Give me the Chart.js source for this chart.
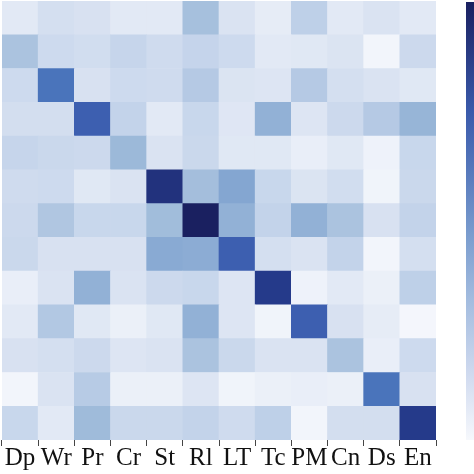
<!DOCTYPE html>
<html>
<head>
<meta charset="utf-8">
<script src="https://cdn.jsdelivr.net/npm/chart.js@4/dist/chart.umd.min.js"></script>
<style>
    html, body { margin: 0; padding: 0; background: #fff; }
    #wrap { width: 474px; height: 474px; }
</style>
</head>
<body>
<div id="wrap"><canvas id="heat"></canvas></div>
<script>
// column labels
const xLabels = ['Dp', 'Wr', 'Pr', 'Cr', 'St', 'Rl', 'LT', 'Tc', 'PM', 'Cn', 'Ds', 'En']

// cell intensity (0 = white, 1 = darkest), rows listed top to bottom
const cellValues = [
    [0.12, 0.2, 0.18, 0.12, 0.12, 0.42, 0.17, 0.1, 0.32, 0.12, 0.17, 0.12],
    [0.4, 0.24, 0.22, 0.28, 0.23, 0.29, 0.24, 0.12, 0.13, 0.16, 0.03, 0.25],
    [0.24, 0.72, 0.18, 0.24, 0.23, 0.36, 0.16, 0.15, 0.36, 0.2, 0.17, 0.13],
    [0.21, 0.21, 0.78, 0.3, 0.12, 0.27, 0.14, 0.5, 0.15, 0.25, 0.36, 0.48],
    [0.28, 0.26, 0.25, 0.46, 0.17, 0.26, 0.13, 0.13, 0.08, 0.13, 0.05, 0.27],
    [0.23, 0.24, 0.13, 0.17, 0.93, 0.43, 0.55, 0.27, 0.16, 0.22, 0.04, 0.26],
    [0.25, 0.38, 0.27, 0.27, 0.44, 1.0, 0.5, 0.3, 0.5, 0.4, 0.18, 0.3],
    [0.26, 0.18, 0.18, 0.18, 0.53, 0.52, 0.78, 0.2, 0.17, 0.3, 0.03, 0.2],
    [0.08, 0.17, 0.5, 0.17, 0.25, 0.27, 0.15, 0.9, 0.05, 0.12, 0.07, 0.32],
    [0.12, 0.37, 0.13, 0.07, 0.13, 0.5, 0.15, 0.04, 0.78, 0.18, 0.1, 0.02],
    [0.18, 0.2, 0.25, 0.15, 0.17, 0.4, 0.26, 0.17, 0.17, 0.4, 0.08, 0.24],
    [0.03, 0.17, 0.35, 0.07, 0.07, 0.15, 0.04, 0.07, 0.08, 0.07, 0.72, 0.18],
    [0.27, 0.12, 0.45, 0.26, 0.26, 0.3, 0.23, 0.32, 0.03, 0.21, 0.21, 0.9],
]

const colorStops = [
    [0.0, [247, 249, 253]],
    [0.15, [221, 229, 243]],
    [0.3, [195, 211, 234]],
    [0.45, [159, 187, 218]],
    [0.55, [132, 166, 209]],
    [0.72, [74, 116, 187]],
    [0.78, [61, 95, 176]],
    [0.9, [37, 58, 138]],
    [1.0, [26, 32, 96]],
]

// colour bar shading, top to bottom
const barStops = [
    [0.0, [26, 32, 96]],
    [0.25, [58, 90, 171]],
    [0.38, [85, 119, 187]],
    [0.53, [122, 156, 206]],
    [0.68, [163, 188, 223]],
    [0.84, [205, 216, 238]],
    [1.0, [246, 248, 252]],
]

function colorFor(v) {
    for (let i = 1; i < colorStops.length; i++) {
        const [p1, c1] = colorStops[i]
        const [p0, c0] = colorStops[i - 1]
        if (v <= p1) {
            const t = (v - p0) / (p1 - p0)
            const c = c0.map((x, k) => Math.round(x + (c1[k] - x) * t))
            return 'rgb(' + c.join(',') + ')'
        }
    }
    return 'rgb(26,32,96)'
}

// one stacked dataset per row, bottom row first
const datasets = cellValues
    .slice()
    .reverse()
    .map((row) => ({
        data: row.map(() => 1),
        backgroundColor: row.map(colorFor),
        borderWidth: 0,
        categoryPercentage: 1,
        barPercentage: 1,
    }))

const colorBar = {
    id: 'colorBar',
    afterDraw(chart) {
        const ctx = chart.ctx
        const area = chart.chartArea
        const x = area.right + 30
        const top = area.top + 1
        const grad = ctx.createLinearGradient(0, top, 0, area.bottom)
        barStops.forEach(([p, c]) => {
            grad.addColorStop(p, 'rgb(' + c.join(',') + ')')
        })
        ctx.save()
        ctx.fillStyle = grad
        ctx.fillRect(x, top, chart.width - x, area.bottom - top)
        ctx.restore()
    },
}

new Chart('heat', {
    type: 'bar',
    data: { labels: xLabels, datasets: datasets },
    plugins: [colorBar],
    options: {
        responsive: true,
        maintainAspectRatio: false,
        animation: false,
        layout: { padding: { left: 2, right: 38, top: 1, bottom: 3 } },
        plugins: {
            legend: { display: false },
            tooltip: { enabled: false },
        },
        scales: {
            x: {
                stacked: true,
                grid: {
                    display: true,
                    drawOnChartArea: false,
                    drawTicks: true,
                    tickLength: 6,
                    tickColor: '#444',
                },
                border: { display: false },
                ticks: {
                    color: '#111',
                    padding: 0,
                    maxRotation: 0,
                    autoSkip: false,
                    font: { family: "'Liberation Serif', serif", size: 25, lineHeight: 1 },
                },
            },
            y: {
                stacked: true,
                display: false,
                min: 0,
                max: cellValues.length,
            },
        },
    },
})
</script>
</body>
</html>
